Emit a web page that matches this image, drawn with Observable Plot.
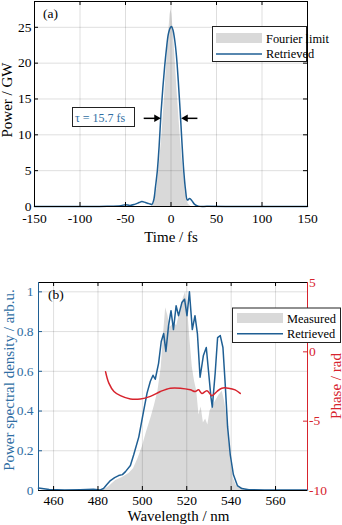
<!DOCTYPE html>
<html>
<head>
<meta charset="utf-8">
<script src="https://cdn.jsdelivr.net/npm/d3@7"></script>
<script src="https://cdn.jsdelivr.net/npm/@observablehq/plot@0.6"></script>
<style>
  body { margin: 0; background: #fff; width: 342px; height: 525px; overflow: hidden; position: relative; }
  .abs { position: absolute; left: 0; }
  text { font-family: 'Liberation Serif', 'Times New Roman', serif; font-weight: 400; }
</style>
</head>
<body>
<div id="a" class="abs" style="top:0"></div>
<div id="b" class="abs" style="top:245px"></div>
<svg id="ov" class="abs" style="top:0;pointer-events:none" width="342" height="525"></svg>
<script>
// ---------- Data: panel (a) ----------
const timeRet  = [-150,-100,-70,-55,-50,-45,-40,-35,-32,-28,-24,-21,-19,-17,-15,-13,-11,-9,-7,-5,-3,-1,0.5,2,4,6,8,10,12,14,16,18,20.5,23,26,30,40,60,150];
const powerRet = [0,0,0.03,0.12,0.25,0.15,0.3,0.55,0.7,0.55,0.4,0.3,0.9,2.8,5,8.5,13,16.5,19.5,22,24,24.9,25.1,24.7,23.3,21,17.5,13.5,9,5,2.3,0.9,1.1,0.8,0.3,0.05,0.02,0,0];
const timeFL   = [-150,-22,-19,-16,-13,-10,-7,-5,-3,-1,0,1,3,5,7,10,13,16,19,22,150];
const powerFL  = [0,0,0.3,2,5.5,10,15.5,19.5,23.5,26.8,27.5,26.8,23.5,19.5,15.5,10,5.5,2,0.3,0,0];
const xTicksA  = [-150,-100,-50,0,50,100,150];
const yTicksA  = [0,5,10,15,20,25];
const arrowsA  = [{x1:-30, x2:-16, y:12.3, rot:90}, {x1:29, x2:16, y:12.3, rot:-90}];

// ---------- Data: panel (b) ----------
const wlRet  = [453.2,458,465,472,478,481,482.5,484,485.6,487.5,489.3,491,492.4,494.6,496.1,498.4,500.3,502.1,503.6,504.8,505.8,507.3,508.5,509.6,510.6,511.8,512.9,514,515.2,516.3,517.8,519,520.1,521.2,522.5,523.7,524.8,526,527.5,528.8,529.8,530.9,531.5,532.8,533.9,535.1,536.3,537.3,538.4,539.6,541,542.8,544.8,548,555,565,574.4];
const psdRet = [0.012,0.005,0.003,0.004,0.006,0.003,0.01,0.03,0.05,0.065,0.075,0.08,0.095,0.126,0.18,0.27,0.385,0.49,0.55,0.58,0.56,0.64,0.75,0.79,0.70,0.83,0.905,0.81,0.93,0.88,0.946,0.963,0.88,1.0,0.81,0.88,0.79,0.57,0.68,0.72,0.60,0.47,0.42,0.59,0.77,0.78,0.72,0.54,0.32,0.18,0.08,0.025,0.01,0.004,0.003,0.002,0.002];
const wlMeas  = [453.2,480,483,485,488,491,494,496,498,500,502,504,505.5,507,508.5,509.5,510.5,511.5,512.5,514,515.5,517,518.5,519.5,520.5,521.5,522.5,523.5,524.5,525.5,526.5,527.5,528.5,529.5,530.5,531.5,533,534.5,536,537,538,539,540,541,542.5,544,546,548,574.4];
const psdMeas = [0,0,0.005,0.02,0.05,0.065,0.085,0.11,0.16,0.22,0.3,0.37,0.43,0.5,0.62,0.78,0.92,0.88,0.82,0.84,0.83,0.9,0.97,1.0,0.9,0.75,0.62,0.55,0.5,0.38,0.42,0.34,0.36,0.33,0.4,0.42,0.45,0.48,0.5,0.45,0.38,0.25,0.14,0.06,0.02,0.02,0.005,0,0];
const wlPh  = [483.4,484.9,487.2,490.1,494.6,499.1,503.6,508.1,512.6,517.1,521.6,523.8,525.3,526.8,529.1,531.3,533.6,535.8,538.8,541.8,544.1];
const phase = [-1.43,-2.26,-2.86,-3.16,-3.4,-3.4,-3.21,-2.86,-2.62,-2.62,-2.74,-2.86,-2.74,-3.0,-2.8,-3.16,-2.86,-2.62,-2.62,-2.74,-3.0];
const xTicksB = [460,480,500,520,540,560];
const yTicksB = [0,0.2,0.4,0.6,0.8,1];
const phaseTicks = [-10,-5,0,5];

// ---------- Styling ----------
const blue = "#1f5f94", blueText = "#2f6ea3", red = "#d7232d", gray = "#d9d9d9";
const font = "'Liberation Serif', 'Times New Roman', serif";
const tickFont = 13.5;

// ---------- Panel (a) ----------
const retA = timeRet.map((t, i) => ({t, p: powerRet[i]}));
const flA  = timeFL.map((t, i) => ({t, p: powerFL[i]}));
const WA = 342, HA = 245, mA = {t: 1, b: 39, l: 34, r: 35};
const pwA = WA - mA.l - mA.r, phA = HA - mA.t - mA.b;
const chartA = Plot.plot({
  width: WA, height: HA,
  marginTop: mA.t, marginBottom: mA.b, marginLeft: mA.l, marginRight: mA.r,
  style: {fontFamily: font, fontSize: "13.5px", background: "transparent", color: "#000", overflow: "visible"},
  x: {domain: [-150, 150], axis: null},
  y: {domain: [0, 28.6], axis: null},
  marks: [
    Plot.areaY(flA, {x: "t", y: "p", fill: gray}),
    Plot.gridX(xTicksA, {stroke: "#000", strokeOpacity: 0.13}),
    Plot.gridY(yTicksA, {stroke: "#000", strokeOpacity: 0.13}),
    Plot.lineY(retA, {x: "t", y: "p", stroke: blue, strokeWidth: 1.5, curve: "catmull-rom"}),
    Plot.link(arrowsA, {x1: "x1", x2: "x2", y1: "y", y2: "y", stroke: "#000", strokeWidth: 1.5}),
    Plot.dot(arrowsA, {x: "x2", y: "y", symbol: "triangle", r: 2.8, fill: "#000", stroke: "none", rotate: "rot"}),
    Plot.tickX(xTicksA, {x: d => d, insetTop: phA - 4, stroke: "#000"}),
    Plot.tickX(xTicksA, {x: d => d, insetBottom: phA - 4, stroke: "#000"}),
    Plot.tickY(yTicksA, {y: d => d, insetRight: pwA - 4, stroke: "#000"}),
    Plot.tickY(yTicksA, {y: d => d, insetLeft: pwA - 4, stroke: "#000"}),
    Plot.frame({stroke: "#000"}),
    Plot.axisX(xTicksA, {tickSize: 0, tickPadding: 7, label: null, tickFormat: d => String(d), fontSize: tickFont}),
    Plot.axisY(yTicksA, {tickSize: 0, tickPadding: 3, label: null, tickFormat: d => String(d), fontSize: tickFont})
  ]
});
document.getElementById("a").append(chartA);

// ---------- Panel (b) ----------
const retB  = wlRet.map((w, i) => ({w, v: psdRet[i]}));
const measB = wlMeas.map((w, i) => ({w, v: psdMeas[i]}));
const xDomB = [453.2, 574.4], yDomB = [0, 1.047], phDom = [-10, 5];
const toLeft = p => (p - phDom[0]) / (phDom[1] - phDom[0]) * yDomB[1];
const fromLeft = v => Math.round(v / yDomB[1] * (phDom[1] - phDom[0]) + phDom[0]);
const phB = wlPh.map((w, i) => ({w, v: toLeft(phase[i])}));
const WB = 342, HB = 280, mB = {t: 37, b: 35, l: 38, r: 35};
const pwB = WB - mB.l - mB.r, phBh = HB - mB.t - mB.b;
const chartB = Plot.plot({
  width: WB, height: HB,
  marginTop: mB.t, marginBottom: mB.b, marginLeft: mB.l, marginRight: mB.r,
  style: {fontFamily: font, fontSize: "13.5px", background: "transparent", color: "#000", overflow: "visible"},
  x: {domain: xDomB, axis: null},
  y: {domain: yDomB, axis: null},
  marks: [
    Plot.areaY(measB, {x: "w", y: "v", fill: gray}),
    Plot.gridX(xTicksB, {stroke: "#000", strokeOpacity: 0.13}),
    Plot.gridY(yTicksB, {stroke: "#000", strokeOpacity: 0.13}),
    Plot.lineY(retB, {x: "w", y: "v", stroke: blue, strokeWidth: 1.5}),
    Plot.lineY(phB, {x: "w", y: "v", stroke: red, strokeWidth: 1.5, curve: "catmull-rom"}),
    Plot.tickX(xTicksB, {x: d => d, insetTop: phBh - 4, stroke: "#000"}),
    Plot.tickX(xTicksB, {x: d => d, insetBottom: phBh - 4, stroke: "#000"}),
    Plot.tickY(yTicksB, {y: d => d, insetRight: pwB - 4, stroke: blue}),
    Plot.tickY(phaseTicks.map(toLeft), {y: d => d, insetLeft: pwB - 4, stroke: red}),
    Plot.ruleY([yDomB[0]], {stroke: "#000"}),
    Plot.ruleY([yDomB[1]], {stroke: "#000"}),
    Plot.ruleX([xDomB[0]], {stroke: blue}),
    Plot.ruleX([xDomB[1]], {stroke: red}),
    Plot.axisX(xTicksB, {tickSize: 0, tickPadding: 5, label: null, tickFormat: d => String(d), fontSize: tickFont}),
    Plot.axisY(yTicksB, {anchor: "left", tickSize: 0, tickPadding: 5, label: null, tickFormat: d => String(d), fill: blueText, color: blueText, fontSize: tickFont}),
    Plot.axisY(phaseTicks.map(toLeft), {anchor: "right", tickSize: 0, tickPadding: 1.5, label: null, tickFormat: v => String(fromLeft(v)), fill: red, color: red, fontSize: tickFont})
  ]
});
document.getElementById("b").append(chartB);

// ---------- Overlay: legends, titles, annotations ----------
const ov = d3.select("#ov");
function txt(x, y, s, opts = {}) {
  const t = ov.append("text").attr("x", x).attr("y", y).text(s)
    .attr("font-size", opts.size || 12).attr("fill", opts.fill || "#000")
    .attr("text-anchor", opts.anchor || "start");
  if (opts.rotate) t.attr("transform", `rotate(${opts.rotate},${x},${y})`);
  return t;
}
// panel (a)
txt(43, 18, "(a)", {size: 13.5});
ov.append("rect").attr("x", 212.5).attr("y", 26.5).attr("width", 94).attr("height", 35).attr("fill", "#fff").attr("stroke", "#222");
ov.append("rect").attr("x", 216).attr("y", 33).attr("width", 46).attr("height", 10).attr("fill", gray);
txt(266, 43, "Fourier limit", {size: 12.4});
ov.append("line").attr("x1", 216).attr("x2", 262).attr("y1", 54).attr("y2", 54).attr("stroke", blue).attr("stroke-width", 1.5);
txt(266, 57.5, "Retrieved", {size: 12.4});
ov.append("rect").attr("x", 72.5).attr("y", 107.5).attr("width", 62).attr("height", 19).attr("fill", "#fff").attr("stroke", "#222");
txt(75, 121.5, "τ = 15.7 fs", {fill: blueText});
txt(171, 242, "Time / fs", {size: 15, anchor: "middle"});
txt(12, 100, "Power / GW", {size: 15, anchor: "middle", rotate: -90});
// panel (b)
txt(48, 299, "(b)", {size: 13.5});
ov.append("rect").attr("x", 232.5).attr("y", 308).attr("width", 108).attr("height", 34.5).attr("fill", "#fff").attr("stroke", "#222");
ov.append("rect").attr("x", 237).attr("y", 313).attr("width", 46).attr("height", 10).attr("fill", gray);
txt(287, 323, "Measured", {size: 12.4});
ov.append("line").attr("x1", 237).attr("x2", 283).attr("y1", 333.7).attr("y2", 333.7).attr("stroke", blue).attr("stroke-width", 1.5);
txt(287, 337.5, "Retrieved", {size: 12.4});
txt(178.5, 521, "Wavelength / nm", {size: 15, anchor: "middle"});
txt(14, 380, "Power spectral density / arb.u.", {size: 15, anchor: "middle", rotate: -90, fill: blueText});
txt(340.5, 386, "Phase / rad", {size: 15, anchor: "middle", rotate: -90, fill: red});
</script>
</body>
</html>
